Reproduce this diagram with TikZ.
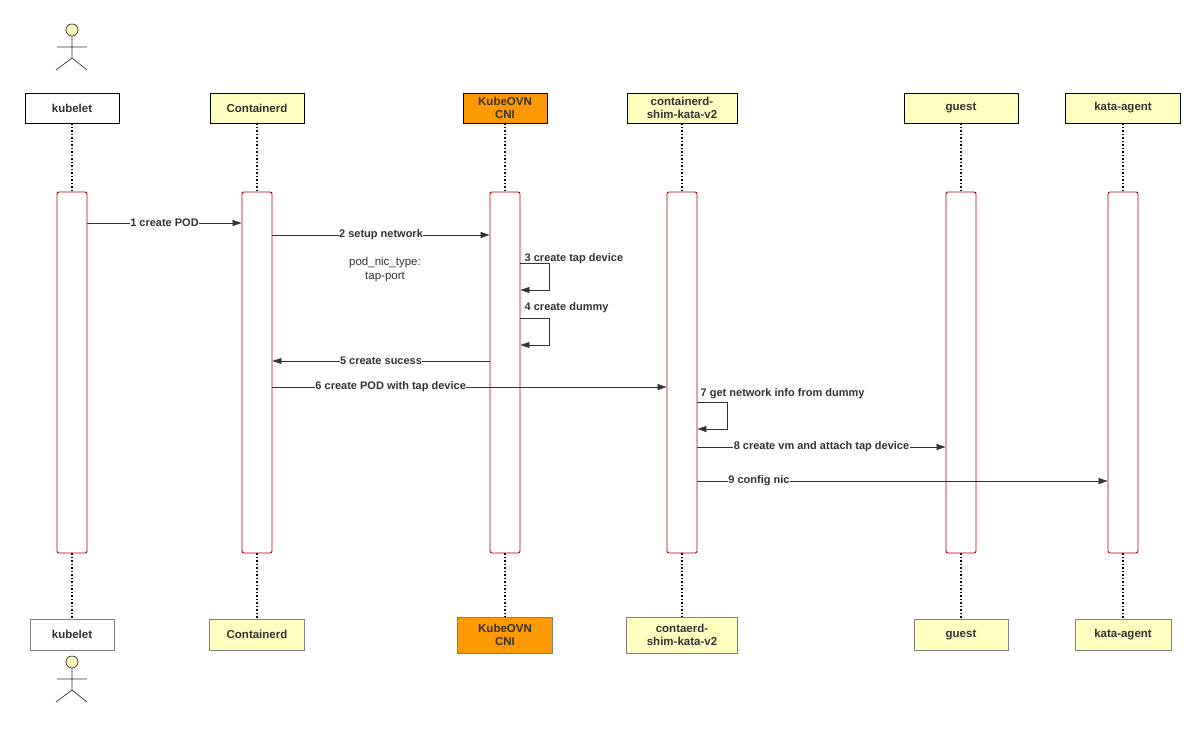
\documentclass[tikz,border=0pt]{standalone}
\usepackage{fontspec}
\setmainfont{Liberation Sans}
\usetikzlibrary{arrows.meta}
\definecolor{ylw}{HTML}{FFFFC0}
\definecolor{org}{HTML}{FF9900}
\definecolor{bar}{HTML}{B20000}
\definecolor{txt}{HTML}{333333}
\begin{document}
\begin{tikzpicture}[x=1pt,y=-1pt,
  hd/.style={draw=black,line width=0.8pt,minimum height=30pt,inner sep=1pt,font=\fontsize{11.5}{13}\selectfont\bfseries,text=txt,align=center},
  ft/.style={draw=gray,line width=1pt,minimum height=31pt,inner sep=1pt,font=\fontsize{11.5}{13}\selectfont\bfseries,text=txt,align=center},
  act/.style={draw=bar,line width=0.9pt,fill=white,rounded corners=2pt,minimum width=30pt,minimum height=361pt,inner sep=0pt},
  life/.style={dotted,line width=1.5pt},
  msg/.style={draw=txt,line width=0.6pt,-{Triangle[length=9pt,width=6pt]}},
  lbl/.style={fill=white,inner sep=0.5pt,font=\fontsize{11}{13}\selectfont\bfseries,text=txt},
  slbl/.style={inner sep=0.5pt,font=\fontsize{11}{13}\selectfont\bfseries,text=txt,anchor=south west}]
\useasboundingbox (0,0) rectangle (1204,731);
% top heads
\node[hd,fill=white,minimum width=94pt] (h1) at (72,108) {kubelet};
\node[hd,fill=ylw,minimum width=94pt] (h2) at (257,108) {Containerd};
\node[hd,fill=org,minimum width=84pt] (h3) at (505,108) {KubeOVN\\CNI};
\node[hd,fill=ylw,minimum width=110pt] (h4) at (682,108) {containerd-\\shim-kata-v2};
\node[hd,fill=ylw,minimum width=114pt] (h5) at (961,108) {guest};
\node[hd,fill=ylw,minimum width=115pt] (h6) at (1123,108) {kata-agent};
% bottom
\node[ft,fill=white,minimum width=84pt] (f1) at (72,634.5) {kubelet};
\node[ft,fill=ylw,minimum width=95pt] (f2) at (257,634.5) {Containerd};
\node[ft,fill=org,minimum width=95pt,minimum height=36pt] (f3) at (505,635) {KubeOVN\\CNI};
\node[ft,fill=ylw,minimum width=111pt,minimum height=36pt] (f4) at (682,635) {contaerd-\\shim-kata-v2};
\node[ft,fill=ylw,minimum width=94pt] (f5) at (961,634.5) {guest};
\node[ft,fill=ylw,minimum width=96pt] (f6) at (1123,634.5) {kata-agent};
% activation bars
\foreach \i/\x in {1/72,2/257,3/505,4/682,5/961,6/1123}{
  \node[act] (a\i) at (\x,372.5) {};
}
\foreach \i in {1,...,6}{
  \draw[life] (h\i.south) -- (a\i.north);
  \draw[life] (a\i.south) -- (f\i.north);
}
% actors
\foreach \y/\n in {30/t,662/b}{
  \draw[fill=ylw,draw=txt,line width=0.7pt] (72,\y) circle (6);
  \draw[txt,line width=0.7pt] (72,\y+6) -- (72,\y+28) (57,\y+17) -- (87,\y+17) (56,\y+40) -- (72,\y+28) -- (87,\y+40);
}
% messages
\coordinate (m1s) at (a1.east |- 0,223); \coordinate (m1e) at (a2.west |- 0,223);
\draw[msg] (m1s) -- node[lbl]{1 create POD} (m1e);
\coordinate (m2s) at (a2.east |- 0,235); \coordinate (m2e) at (a3.west |- 0,235);
\draw[msg] (m2s) -- node[lbl]{2 setup network} (m2e);
\node[font=\fontsize{11.5}{14}\selectfont,text=txt,align=center] (note) at (385,270) {pod\_nic\_type:\\tap-port};
\coordinate (m3s) at (a3.east |- 0,263); \coordinate (m3e) at (a3.east |- 0,290);
\draw[msg] (m3s) -- ++(29,0) |- (m3e);
\node[slbl] (l3) at (524,264) {3 create tap device};
\coordinate (m4s) at (a3.east |- 0,318); \coordinate (m4e) at (a3.east |- 0,345);
\draw[msg] (m4s) -- ++(29,0) |- (m4e);
\node[slbl] (l4) at (524,313) {4 create dummy};
\coordinate (m5s) at (a3.west |- 0,361); \coordinate (m5e) at (a2.east |- 0,361);
\draw[msg] (m5s) -- node[lbl]{5 create sucess} (m5e);
\coordinate (m6s) at (a2.east |- 0,387); \coordinate (m6e) at (a4.west |- 0,387);
\draw[msg] (m6s) -- node[lbl,pos=0.3]{6 create POD with tap device} (m6e);
\coordinate (m7s) at (a4.east |- 0,402); \coordinate (m7e) at (a4.east |- 0,429);
\draw[msg] (m7s) -- ++(30,0) |- (m7e);
\node[slbl] (l7) at (700,400) {7 get network info from dummy};
\coordinate (m8s) at (a4.east |- 0,447); \coordinate (m8e) at (a5.west |- 0,447);
\draw[msg] (m8s) -- node[lbl,pos=0.5]{8 create vm and attach tap device} (m8e);
\coordinate (m9s) at (a4.east |- 0,481); \coordinate (m9e) at (a6.west |- 0,481);
\draw[msg] (m9s) -- node[lbl,pos=0.15]{9 config nic} (m9e);
\end{tikzpicture}
\end{document}
